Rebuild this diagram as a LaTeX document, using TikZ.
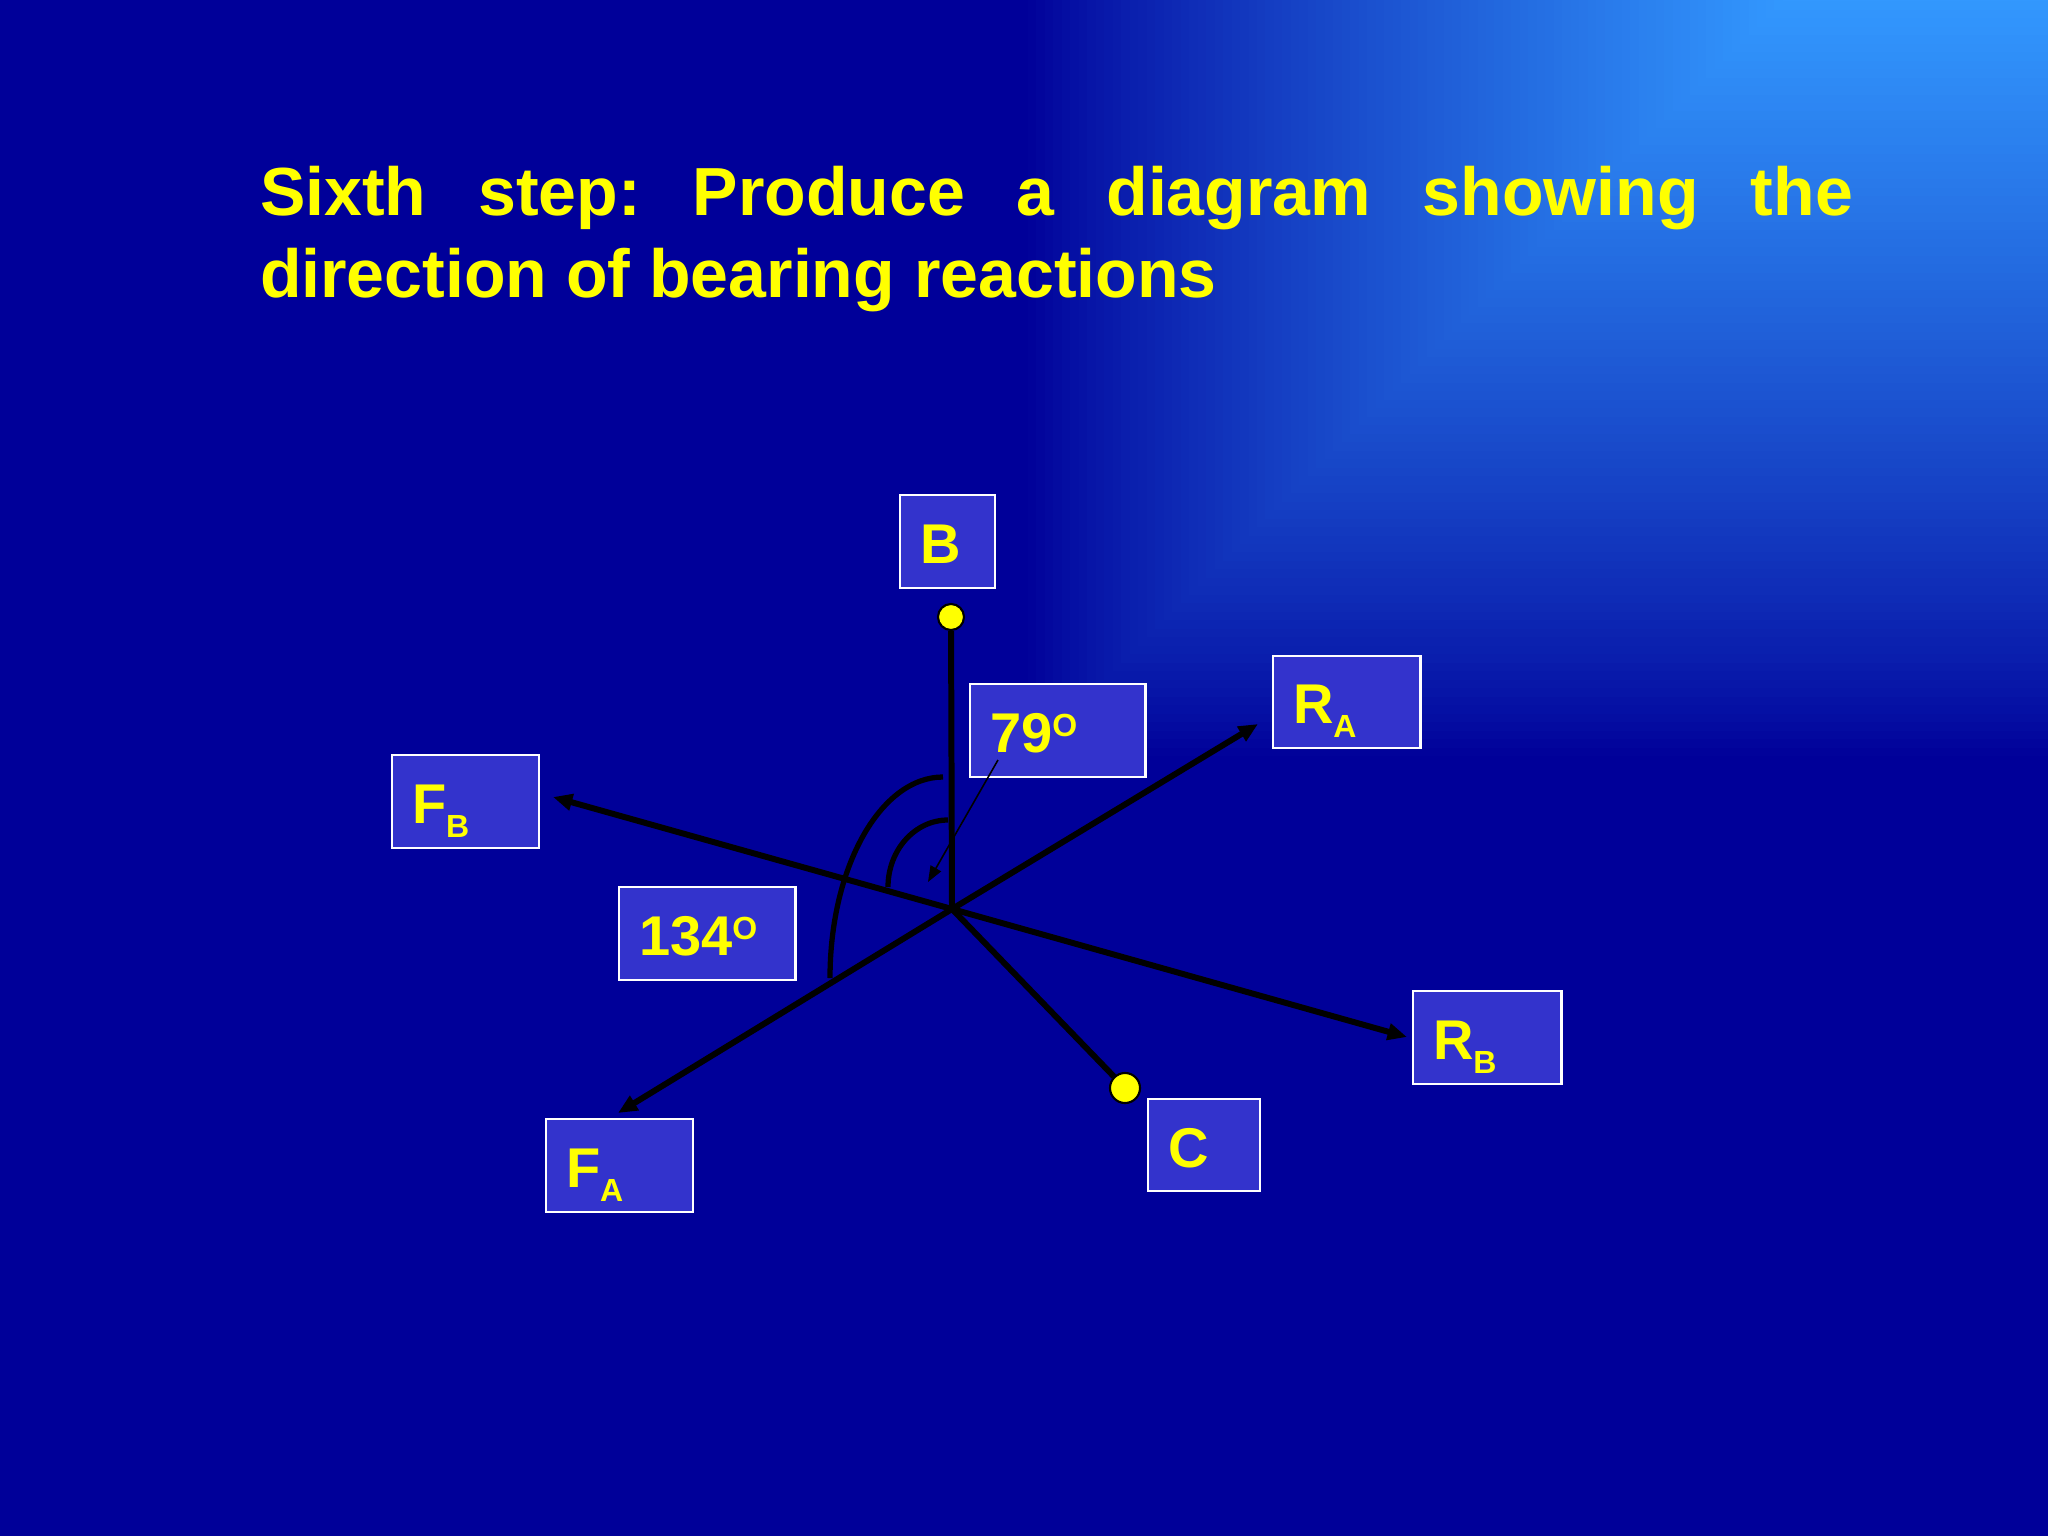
\documentclass[tikz,border=0pt]{standalone}
\usepackage{fontspec}
\setmainfont{Liberation Sans}
\usetikzlibrary{arrows.meta}
\definecolor{bgdark}{RGB}{0,0,153}
\definecolor{bglight}{RGB}{51,153,255}
\definecolor{boxfill}{RGB}{51,51,204}
\definecolor{txtyellow}{RGB}{255,255,0}
\newcommand\titlefont{\fontsize{19.35pt}{23pt}\selectfont\bfseries}
\newcommand\lblfont{\fontsize{15.93pt}{18pt}\selectfont\bfseries}
\newcommand\subfont{\fontsize{9.1pt}{11pt}\selectfont\bfseries}
\newcommand\lsub[1]{\raisebox{-3.98pt}{\subfont #1}}
\newcommand\lsup[1]{\raisebox{4.55pt}{\subfont #1}}
\begin{document}
\begin{tikzpicture}[x=0.01cm, y=-0.01cm,
  boxst/.style={draw=white, line width=0.8pt, fill=boxfill, anchor=north west, inner sep=0, outer sep=0},
  lbl/.style={anchor=base west, inner sep=0, outer sep=0, text=txtyellow, font=\lblfont},
  force/.style={line width=1.7pt, black, -{Triangle[length=5.5pt,width=4.6pt]}},
  member/.style={line width=1.7pt, black},
  anglearc/.style={line width=1.5pt, black},
  pointer/.style={line width=0.45pt, black, -{Triangle[length=4.5pt,width=3.4pt]}},
  joint/.style={circle, fill=txtyellow, draw=black, line width=0.6pt, inner sep=0},
  titletxt/.style={anchor=base west, inner sep=0, outer sep=0, text=txtyellow, font=\titlefont}]

% background
\fill[bgdark] (0,0) rectangle (2048,1536);
\useasboundingbox (0,0) rectangle (2048,1536);
\begin{scope}
  \clip (0,0) rectangle (2048,1536);
  \foreach \i in {0,...,89}{
    \pgfmathsetmacro\t{1-\i*0.74/89}
    \pgfmathsetmacro\p{min(99.9,100*((\i+0.3)/90)^0.8)}
    \pgfmathsetmacro\h{1020*\t}
    \fill[bglight!\p!bgdark] (2048-\h,-264-\h) rectangle (2048+\h,-264+\h);
  }
\end{scope}

% title
\node[titletxt] (title1) at (260,215) {\makebox[15.92cm][l]{Sixth\hfill step:\hfill Produce\hfill a\hfill diagram\hfill showing\hfill the}};
\node[titletxt] (title2) at (260,297) {direction of bearing reactions};

% joints and key points
\coordinate (O) at (952,909);
\coordinate (tFB) at (553,797);
\coordinate (tRB) at (1407,1037);
\coordinate (tRA) at (1258,724);
\coordinate (tFA) at (618,1113);
\coordinate (p79) at (998,760);
\coordinate (q79) at (928,882);
\node[joint, minimum size=0.26cm] (Bdot) at (951,617) {};
\node[joint, minimum size=0.30cm] (Cdot) at (1125,1088) {};

% members
\draw[member] (O) -- (Bdot);
\draw[member] (O) -- (Cdot);

% forces
\draw[force] (O) -- (tFB);
\draw[force] (O) -- (tRB);
\draw[force] (O) -- (tRA);
\draw[force] (O) -- (tFA);

% angle arcs
\draw[anglearc] (948,820) .. controls (914.9,820) and (888,850) .. (888,887);
\draw[anglearc] (943,777) .. controls (880.6,777) and (830,867) .. (830,978);

% label boxes
\node[boxst, minimum width=0.95cm, minimum height=0.93cm] (boxB) at (900,495) {};
\node[boxst, minimum width=1.75cm, minimum height=0.93cm] (box79) at (970,684) {};
\node[boxst, minimum width=1.47cm, minimum height=0.93cm] (boxFB) at (392,755) {};
\node[boxst, minimum width=1.76cm, minimum height=0.93cm] (box134) at (619,887) {};
\node[boxst, minimum width=1.47cm, minimum height=0.93cm] (boxFA) at (546,1119) {};
\node[boxst, minimum width=1.47cm, minimum height=0.92cm] (boxRA) at (1273,656) {};
\node[boxst, minimum width=1.48cm, minimum height=0.93cm] (boxRB) at (1413,991) {};
\node[boxst, minimum width=1.12cm, minimum height=0.92cm] (boxC) at (1148,1099) {};

% label texts
\node[lbl] (tB) at (920,563) {B};
\node[lbl] (t79) at (990,752) {79\lsup{O}};
\node[lbl] (tFBl) at (412,823) {F\lsub{B}};
\node[lbl] (t134) at (639,955) {134\lsup{O}};
\node[lbl] (tFAl) at (566,1187) {F\lsub{A}};
\node[lbl] (tRAl) at (1293,723) {R\lsub{A}};
\node[lbl] (tRBl) at (1433,1059) {R\lsub{B}};
\node[lbl] (tC) at (1168,1167) {C};

% pointer from 79 label
\draw[pointer] (p79) -- (q79);
\end{tikzpicture}
\end{document}
